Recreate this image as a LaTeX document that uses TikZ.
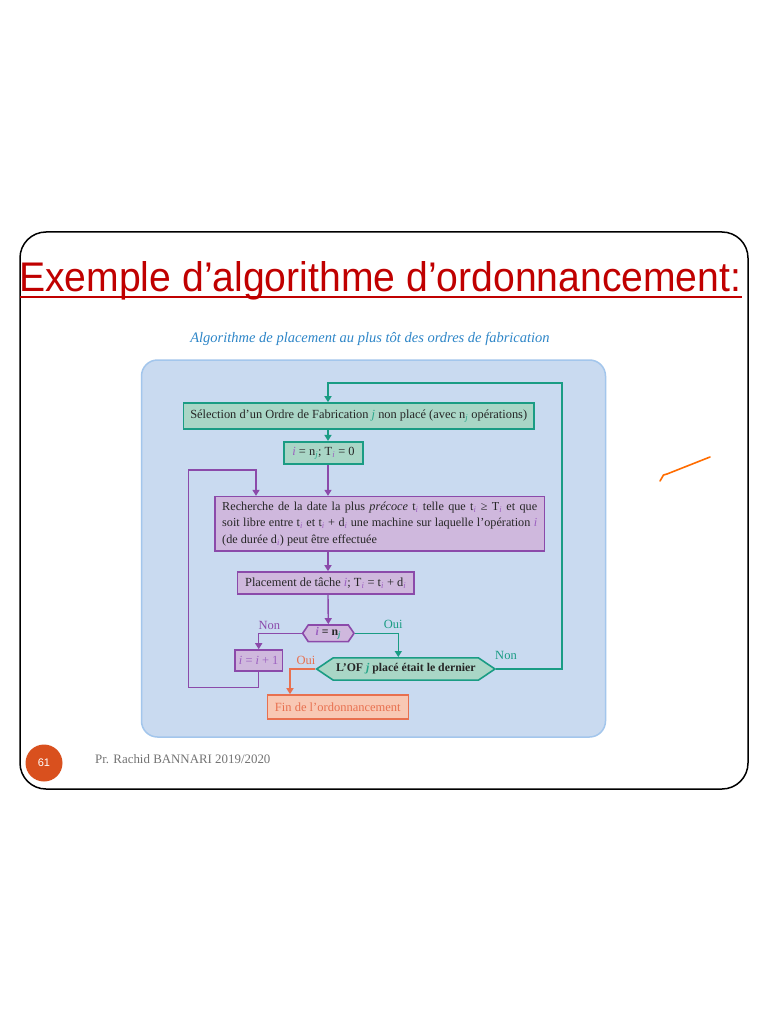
\documentclass[tikz,border=0pt]{standalone}
\usepackage{fontspec}
\setmainfont{Liberation Serif}
\newfontfamily\slidesans{Liberation Sans}
\usetikzlibrary{arrows.meta,shapes.symbols,positioning,calc}

\definecolor{tealc}{HTML}{1A9C84}
\definecolor{tealfill}{HTML}{A9D6C6}
\definecolor{purpc}{HTML}{8B4AAA}
\definecolor{purpfill}{HTML}{CFB8DD}
\definecolor{orangec}{HTML}{E8704F}
\definecolor{orangefill}{HTML}{F8C8B4}
\definecolor{panelfill}{HTML}{C9DAF0}
\definecolor{paneldraw}{HTML}{A3C6EC}
\definecolor{titleblue}{HTML}{2E86C8}
\definecolor{slidered}{HTML}{C00000}
\definecolor{pagenum}{HTML}{D9501E}
\definecolor{violetv}{HTML}{9B5FC0}
\definecolor{tealv}{HTML}{27A68A}

\newcommand{\vari}{\textcolor{violetv}{\textit{i}}}
\newcommand{\varj}{\textcolor{tealv}{\textit{j}}}
\newcommand{\subi}{\textsubscript{\vari}}
\newcommand{\subj}{\textsubscript{\varj}}

\begin{document}
\begin{tikzpicture}[x=1pt, y=-1pt,
    tbox/.style={draw=tealc, fill=tealfill, line width=1.6pt, inner sep=0pt, align=center, font=\fontsize{12.4}{14}\selectfont, text=black!85},
    pbox/.style={draw=purpc, fill=purpfill, line width=1.6pt, inner sep=0pt, align=center, font=\fontsize{12.4}{14}\selectfont, text=black!85},
    obox/.style={draw=orangec, fill=orangefill, line width=1.6pt, inner sep=0pt, align=center, font=\fontsize{12.5}{14}\selectfont, text=orangec},
    hexa/.style={signal, signal to=east and west, inner sep=0pt, line width=1.6pt, font=\bfseries\fontsize{11.8}{13}\selectfont, text=black!85},
    tarr/.style={-{Triangle[length=6pt,width=7pt]}, line width=1.4pt, draw=tealc},
    parr/.style={-{Triangle[length=6pt,width=7pt]}, line width=1.4pt, draw=purpc},
    oarr/.style={-{Triangle[length=6pt,width=7pt]}, line width=1.4pt, draw=orangec},
    lbl/.style={font=\fontsize{12.5}{12.5}\selectfont, inner sep=0pt}
]
\useasboundingbox (0,0) rectangle (768,1024);
\fill[white] (0,0) rectangle (768,1024);

% slide frame and title
\draw[line width=1.5pt, rounded corners=26pt] (20,232) rectangle (748,789);
\node[anchor=base west, inner sep=0pt, text=slidered, font=\slidesans] (slidetitle) at (19,291)
    {\resizebox{722pt}{30pt}{Exemple d’algorithme d’ordonnancement:}};
\draw[slidered, line width=2pt] (20,297) -- (742,297);

% footer
\node[circle, fill=pagenum, minimum size=37pt, inner sep=0pt, text=white, font=\slidesans\fontsize{11}{11}\selectfont] (pnum) at (44,763) {61};
\node[anchor=west, inner sep=0pt, text=black!55, font=\fontsize{12.9}{13}\selectfont] (author) at (95,759) {Pr. Rachid BANNARI 2019/2020};

% pen mark
\draw[orange!85!red, line width=1.6pt, line cap=round, line join=round] (660,481) -- (663.5,475) -- (667,474) -- (710,457);

% diagram
\node[text=titleblue, font=\itshape\fontsize{14.5}{15}\selectfont, inner sep=0pt] (algotitle) at (370,339)
    {Algorithme de placement au plus tôt des ordres de fabrication};
\draw[fill=panelfill, draw=paneldraw, line width=1.5pt, rounded corners=16pt] (141.5,360) rectangle (605.5,737);

\node[tbox, minimum width=350.7pt, minimum height=26pt] (sel) at (358.7,416)
    {Sélection d’un Ordre de Fabrication \varj{} non placé (avec n\subj{} opérations)};
\node[tbox, minimum width=79pt, minimum height=22.3pt] (init) at (323.5,452.9)
    {\vari{} = n\subj; T\subi{} = 0};
\node[pbox, minimum width=329.3pt, minimum height=54.3pt, text width=315pt, align=justify, font=\fontsize{12.2}{16.5}\selectfont] (rech) at (379.7,523.8)
    {Recherche de la date la plus \textit{précoce} t\subi{} telle que t\subi{} ≥ T\subi{} et que\linebreak
     soit libre entre t\subi{} et t\subi{} + d\subi{} une machine sur laquelle l’opération \vari\linebreak
     (de durée d\subi) peut être effectuée};
\node[pbox, minimum width=176.7pt, minimum height=22pt] (plac) at (325.7,583)
    {Placement de tâche \vari; T\subi{} = t\subi{} + d\subi};
\node[hexa, draw=purpc, fill=purpfill, minimum width=51.3pt, minimum height=16.7pt, signal pointer angle=112] (test) at (328.3,633.3)
    {\vari{} = n\subj};
\node[pbox, minimum width=47.3pt, minimum height=21pt, text=violetv] (incr) at (258.7,660.5)
    {\textit{i} = \textit{i} + 1};
\node[hexa, draw=tealc, fill=tealfill, minimum width=178.3pt, minimum height=22.3pt, signal pointer angle=68] (dern) at (405.8,669)
    {L’OF \varj{} placé était le dernier};
\node[obox, minimum width=141pt, minimum height=24pt] (fin) at (337.8,707)
    {Fin de l’ordonnancement};

% bends
\coordinate (trunk) at (328,0);
\coordinate (rloop) at (562,383);
\coordinate (lloopB) at (188.3,687.7);
\coordinate (lloopT) at (188.3,470);
\coordinate (lin) at (256,0);
\coordinate (ouix) at (398.3,0);
\coordinate (finx) at (290,0);

\draw[tarr] (dern.east) -| (rloop) -| (sel.north -| trunk);
\draw[tarr] (sel.south -| trunk) -- (init.north -| trunk);
\draw[parr] (init.south -| trunk) -- (rech.north -| trunk);
\draw[parr] (rech.south -| trunk) -- (plac.north -| trunk);
\draw[parr] (plac.south -| trunk) -- (test.north);
\draw[parr] (test.west) -| (incr.north);
\draw[tarr] (test.east) -| (dern.north -| ouix);
\draw[parr] (incr.south) |- (lloopB) -- (lloopT) -| (rech.north -| lin);
\draw[oarr] (dern.west) -| (fin.north -| finx);

\node[lbl, text=purpc] (nonA) at (269.3,625) {Non};
\node[lbl, text=tealc] (ouiA) at (393.3,624) {Oui};
\node[lbl, text=tealc] (nonB) at (506,655) {Non};
\node[lbl, text=orangec] (ouiB) at (306,660) {Oui};
\end{tikzpicture}
\end{document}
